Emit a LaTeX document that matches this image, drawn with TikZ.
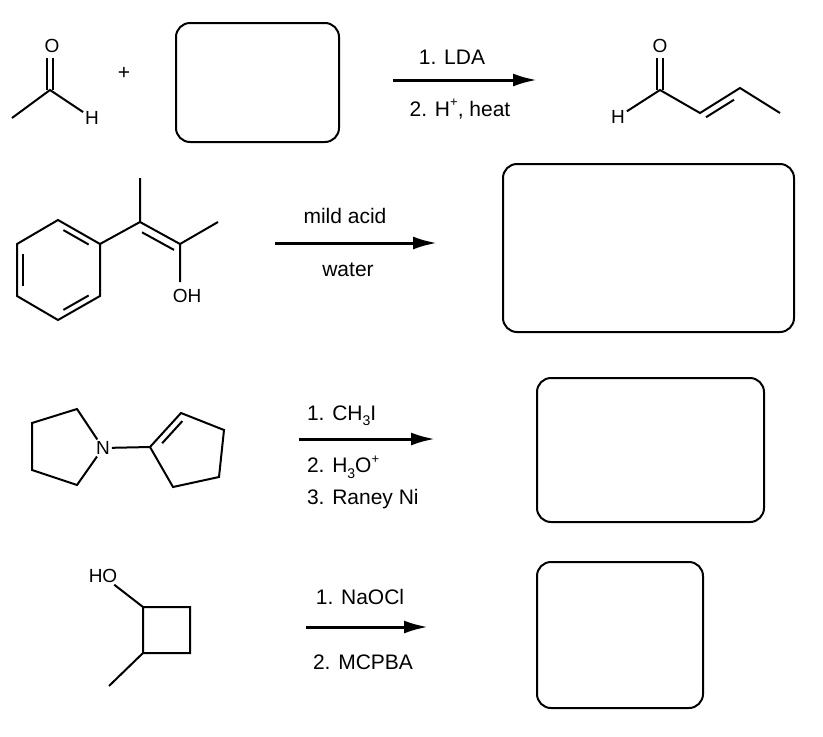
\documentclass[tikz,border=0pt]{standalone}
\usepackage{fontspec}
\setmainfont{Liberation Sans}
\usetikzlibrary{arrows.meta,calc}
\newcommand{\subs}[1]{\raisebox{-0.25em}{\fontsize{14}{16}\selectfont #1}}
\newcommand{\sups}[1]{\raisebox{0.45em}{\fontsize{13}{16}\selectfont #1}}
\begin{document}
\begin{tikzpicture}[x=1pt,y=-1pt,line width=2pt,
  bond/.style={line width=2pt},
  atom/.style={font=\fontsize{19}{20}\selectfont,inner sep=1pt},
  lab/.style={font=\fontsize{21}{24}\selectfont,inner sep=0pt},
  ansbox/.style={draw,rounded corners=14pt,line width=2pt},
  rxn/.style={-{Latex[length=24pt,width=13pt]},line width=3pt}]
\useasboundingbox (0,0) rectangle (823,737);
% Row 1
\coordinate (a1) at (12,118); \coordinate (a2) at (50,90); \coordinate (a3) at (50,58);
\node[atom] (aO) at (52,46) {O};
\node[atom] (aH) at (92,118) {H};
\draw[bond] (a1)--(a2)--(aH);
\draw[bond] ([xshift=-3]a2)--([xshift=-3]a3) ([xshift=3]a2)--([xshift=3]a3);
\node[lab] (plus) at (124,73) {+};
\node[ansbox,minimum width=163pt,minimum height=119pt] (b1) at (257.5,82.5) {};
\coordinate (r1s) at (393,80); \coordinate (r1e) at (537,80);
\draw[rxn] (r1s)--(r1e);
\node[lab] (t1a) at (452,57) {1. LDA};
\node[lab] (t1b) at (460,109) {2. H\sups{+}, heat};
\node[atom] (pH) at (618,117) {H};
\coordinate (p1) at (660,90); \coordinate (p2) at (700,113); \coordinate (p3) at (740,88); \coordinate (p4) at (780,113); \coordinate (pO1) at (660,58);
\node[atom] (pO) at (660,46) {O};
\draw[bond] (pH)--(p1)--(p2)--(p3)--(p4);
\draw[bond] ([xshift=-3]p1)--([xshift=-3]pO1) ([xshift=3]p1)--([xshift=3]pO1);
\draw[bond] ($(p2)!0.15!(p3)+(0,8)$)--($(p2)!0.85!(p3)+(0,8)$);
% Row 2
\coordinate (bz1) at (58,220); \coordinate (bz2) at (100,244); \coordinate (bz3) at (100,296);
\coordinate (bz4) at (58,320); \coordinate (bz5) at (17,296); \coordinate (bz6) at (17,244);
\draw[bond] (bz1)--(bz2)--(bz3)--(bz4)--(bz5)--(bz6)--cycle;
\coordinate (bzc) at (58,270);
\foreach \u/\v in {bz1/bz2,bz3/bz4,bz5/bz6}
  \draw[bond] ($(\u)!0.15!(\v)!0.14!(bzc)$)--($(\v)!0.15!(\u)!0.14!(bzc)$);
\coordinate (ca) at (140,222); \coordinate (cb) at (180,244); \coordinate (cm1) at (140,178); \coordinate (cm2) at (218,222); \coordinate (co) at (180,282);
\node[atom] (oh1) at (187,296) {OH};
\draw[bond] (bz2)--(ca)--(cm1) (ca)--(cb)--(cm2) (cb)--(co);
\draw[bond] ($(ca)!0.15!(cb)+(-4,7)$)--($(ca)!0.95!(cb)+(-4,7)$);
\coordinate (r2s) at (275,243); \coordinate (r2e) at (437,243);
\draw[rxn] (r2s)--(r2e);
\node[lab] (t2a) at (345,216) {mild acid};
\node[lab] (t2b) at (348,270) {water};
\node[ansbox,minimum width=291pt,minimum height=168pt] (b2) at (648.5,248) {};
% Row 3
\node[atom] (N) at (103,448) {N};
\coordinate (q1) at (77,409); \coordinate (q2) at (32,423); \coordinate (q3) at (32,470); \coordinate (q4) at (77,485);
\draw[bond] (N)--(q1)--(q2)--(q3)--(q4)--(N);
\coordinate (s1) at (150,447); \coordinate (s2) at (181,413); \coordinate (s3) at (224,430); \coordinate (s4) at (219,477); \coordinate (s5) at (173,487);
\draw[bond] (N)--(s1);
\draw[bond] (s1)--(s2)--(s3)--(s4)--(s5)--cycle;
\draw[bond] ($(s1)!0.2!(s2)+(6,3)$)--($(s1)!0.85!(s2)+(6,3)$);
\coordinate (r3s) at (299,439); \coordinate (r3e) at (435,439);
\draw[rxn] (r3s)--(r3e);
\node[lab,anchor=west] (t3a) at (306,416) {1. CH\subs{3}I};
\node[lab,anchor=west] (t3b) at (306,467) {2. H\subs{3}O\sups{+}};
\node[lab,anchor=west] (t3c) at (306,499) {3. Raney Ni};
\node[ansbox,minimum width=227pt,minimum height=144pt] (b3) at (650.5,450) {};
% Row 4
\node[atom] (ho) at (103,576) {HO};
\coordinate (k1) at (143,607); \coordinate (k2) at (190,607); \coordinate (k3) at (190,653); \coordinate (k4) at (143,653); \coordinate (km) at (109,686);
\draw[bond] (ho)--(k1);
\draw[bond] (k1)--(k2)--(k3)--(k4)--cycle (k4)--(km);
\coordinate (r4s) at (306,627); \coordinate (r4e) at (428,627);
\draw[rxn] (r4s)--(r4e);
\node[lab] (t4a) at (360,597) {1. NaOCl};
\node[lab] (t4b) at (363,662) {2. MCPBA};
\node[ansbox,minimum width=166pt,minimum height=146pt] (b4) at (620,635) {};
\end{tikzpicture}
\end{document}
